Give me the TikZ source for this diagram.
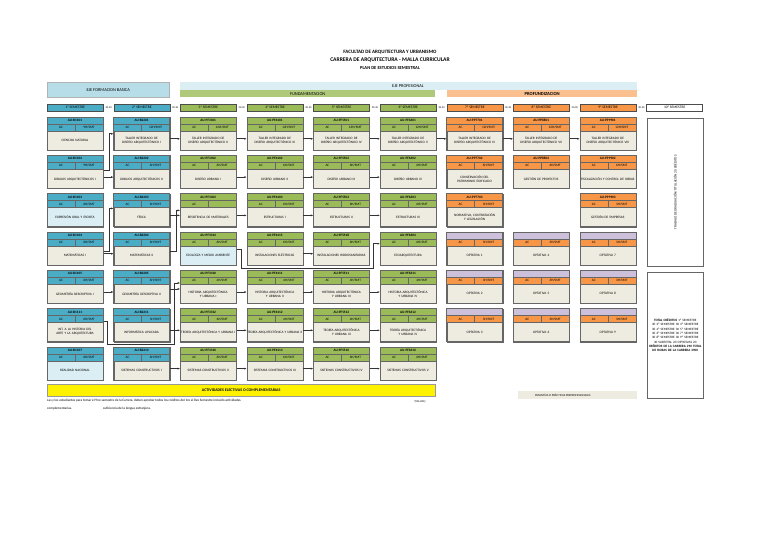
\documentclass[tikz,border=0pt]{standalone}
\usepackage{fontspec}
\setmainfont{Carlito}
\usetikzlibrary{calc,arrows.meta}
\definecolor{cb}{HTML}{4BACC6}
\definecolor{cg}{HTML}{9BBB59}
\definecolor{co}{HTML}{F79646}
\definecolor{cbody}{HTML}{EEECE1}
\definecolor{clb}{HTML}{DAEEF3}
\definecolor{cpu}{HTML}{CCC0DA}
\definecolor{cpl}{HTML}{B7DEE8}
\definecolor{cplo}{HTML}{FAC090}
\tikzset{
 box/.style={draw=black!60,line width=.6pt,anchor=north west,minimum width=56pt,minimum height=33pt,inner sep=0pt},
 tx/.style={font=\fontsize{3.4}{4}\selectfont,inner sep=0pt,align=center,execute at begin node={\hyphenpenalty=10000}},
 semh/.style={draw=black!70,line width=.5pt,anchor=north west,minimum width=56pt,minimum height=7pt,inner sep=0pt,font=\fontsize{3.6}{4}\selectfont},
 arr/.style={-{Latex[length=2.5pt,width=2pt]},line width=.7pt,black!80},
}
\newcommand\crs[8]{%
 \pgfmathsetmacro\xx{47+66.6*(#1-1)}\pgfmathsetmacro\yy{-117-38.3*(#2-1)}%
 \node[box,fill=#8] (c#1r#2) at (\xx,\yy) {};
 \fill[#3] (\xx,\yy) rectangle ++(56,-7);
 \fill[#4] (\xx,\yy-7) rectangle ++(56,-7);
 \draw[black!60,line width=.4pt] (\xx,\yy-7)--++(56,0) (\xx,\yy-14)--++(56,0) (\xx+28,\yy-7)--++(0,-7);
 \draw[black!60,line width=.6pt] (\xx,\yy) rectangle ++(56,-33);
 \node[tx] at (\xx+28,\yy-3.5) {\textbf{#5}};
 \node[tx] at (\xx+14,\yy-10.5) {AC};
 \node[tx] at (\xx+42,\yy-10.5) {#6};
 \node[tx,text width=55pt] at (\xx+28,\yy-23.5) {#7};
}
\newcommand\cb[5]{\crs{#1}{#2}{cb}{cb}{#3}{#4}{#5}{cbody}}
\newcommand\cbl[5]{\crs{#1}{#2}{cb}{cb}{#3}{#4}{#5}{clb}}
\newcommand\cgr[5]{\crs{#1}{#2}{cg}{cg}{#3}{#4}{#5}{cbody}}
\newcommand\cor[5]{\crs{#1}{#2}{co}{co}{#3}{#4}{#5}{cbody}}
\newcommand\opt[3]{\crs{#1}{#2}{cpu}{co}{}{3H/SMT}{#3}{cbody}}
\newcommand\sem[3]{\pgfmathsetmacro\xx{47+66.6*(#1-1)}\node[semh,fill=#2] (s#1) at (\xx,-104) {#3};}
\begin{document}
\begin{tikzpicture}[x=1pt,y=1pt]
\useasboundingbox (0,0) rectangle (768,-542);
\fill[white] (0,0) rectangle (768,-542);
% titles
\node[font=\fontsize{5}{6}\selectfont\bfseries] at (390,-52) {FACULTAD DE ARQUITECTURA Y URBANISMO};
\node[font=\fontsize{5.6}{6}\selectfont\bfseries] at (390,-60) {CARRERA DE ARQUITECTURA - MALLA CURRICULAR};
\node[font=\fontsize{4.6}{6}\selectfont\bfseries] at (390,-68) {PLAN DE ESTUDIOS SEMESTRAL};
% axes
\node[draw=black!30,fill=cpl,anchor=north west,minimum width=122pt,minimum height=15pt,inner sep=0pt,font=\fontsize{4.4}{5}\selectfont] (ejefb) at (47,-82) {EJE FORMACION BASICA};
\fill[clb] (180,-82) rectangle (637,-90);
\node[font=\fontsize{4.4}{5}\selectfont] (ejep) at (408,-86) {EJE PROFESIONAL};
\node[fill=cg!80,anchor=north west,minimum width=255pt,minimum height=7pt,inner sep=0pt,font=\fontsize{4.4}{5}\selectfont] (fund) at (180,-90) {FUNDAMENTACION};
\node[fill=cplo,anchor=north west,minimum width=190pt,minimum height=7pt,inner sep=0pt,font=\fontsize{4.6}{5}\selectfont\bfseries] (prof) at (447,-90) {PROFUNDIZACION};
% semesters
\sem{1}{cb}{1º SEMESTRE}\sem{2}{cb}{2º SEMESTRE}\sem{3}{cg}{3º SEMESTRE}\sem{4}{cg}{4º SEMESTRE}\sem{5}{cg}{5º SEMESTRE}\sem{6}{cg}{6º SEMESTRE}\sem{7}{co}{7º SEMESTRE}\sem{8}{co}{8º SEMESTRE}\sem{9}{co}{9º SEMESTRE}\sem{10}{white}{10º SEMESTRE}
\foreach \i/\j in {1/2,2/3,3/4,4/5,5/6,6/7,7/8,8/9,9/10}{\node[tx,font=\fontsize{2.6}{3}\selectfont] at ($(s\i.east)!.5!(s\j.west)$) {30-30};}
% row 1
\cb{1}{1}{AU-B1101}{9H/SMT}{CIENCIAS NATURAL}
\cb{2}{1}{AU-B2201}{12H/SMT}{TALLER INTEGRADO DE DISEÑO ARQUITECTÓNICO I}
\cgr{3}{1}{AU-PF3301}{12H/SMT}{TALLER INTEGRADO DE DISEÑO ARQUITECTÓNICO II}
\cgr{4}{1}{AU-PF4401}{12H/SMT}{TALLER INTEGRADO DE DISEÑO ARQUITECTÓNICO III}
\cgr{5}{1}{AU-PF5501}{12H/SMT}{TALLER INTEGRADO DE DISEÑO ARQUITECTÓNICO IV}
\cgr{6}{1}{AU-PF6601}{12H/SMT}{TALLER INTEGRADO DE DISEÑO ARQUITECTÓNICO V}
\cor{7}{1}{AU-PP7701}{12H/SMT}{TALLER INTEGRADO DE DISEÑO ARQUITECTÓNICO VI}
\cor{8}{1}{AU-PP8801}{12H/SMT}{TALLER INTEGRADO DE DISEÑO ARQUITECTÓNICO VII}
\cor{9}{1}{AU-PP9901}{12H/SMT}{TALLER INTEGRADO DE DISEÑO ARQUITECTÓNICO VIII}
% row 2
\cb{1}{2}{AU-B1102}{9H/SMT}{DIBUJOS ARQUITECTÓNICOS I}
\cb{2}{2}{AU-B2202}{6H/SMT}{DIBUJOS ARQUITECTÓNICOS II}
\cgr{3}{2}{AU-PF3302}{6H/SMT}{DISEÑO URBANO I}
\cgr{4}{2}{AU-PF4402}{6H/SMT}{DISEÑO URBANO II}
\cgr{5}{2}{AU-PF5502}{6H/SMT}{DISEÑO URBANO III}
\cgr{6}{2}{AU-PF6602}{6H/SMT}{DISEÑO URBANO IV}
\cor{7}{2}{AU-PP7702}{6H/SMT}{CONSERVACIÓN DEL PATRIMONIO EDIFICADO}
\cor{8}{2}{AU-PP8802}{6H/SMT}{GESTIÓN DE PROYECTOS}
\cor{9}{2}{AU-PP9902}{6H/SMT}{FISCALIZACIÓN Y CONTROL DE OBRAS}
% row 3
\cbl{1}{3}{AU-B1103}{6H/SMT}{EXPRESIÓN ORAL Y ESCRITA}
\cb{2}{3}{AU-B2203}{6H/SMT}{FÍSICA}
\cgr{3}{3}{AU-PF3303}{}{RESISTENCIA DE MATERIALES}
\cgr{4}{3}{AU-PF4403}{6H/SMT}{ESTRUCTURAS I}
\cgr{5}{3}{AU-PF5503}{6H/SMT}{ESTRUCTURAS II}
\cgr{6}{3}{AU-PF6603}{6H/SMT}{ESTRUCTURAS III}
\cor{7}{3}{AU-PP7703}{3H/SMT}{NORMATIVA, CONTRATACIÓN Y LEGISLACIÓN}
\cor{9}{3}{AU-PP9903}{3H/SMT}{GESTIÓN DE EMPRESAS}
% row 4
\cb{1}{4}{AU-B1104}{6H/SMT}{MATEMÁTICAS I}
\cb{2}{4}{AU-B2204}{6H/SMT}{MATEMÁTICAS II}
\crs{3}{4}{cg}{cg}{AU-PF3314}{6H/SMT}{ECOLOGÍA Y MEDIO AMBIENTE}{clb}
\cgr{4}{4}{AU-PF4415}{6H/SMT}{INSTALACIONES ELÉCTRICAS}
\cgr{5}{4}{AU-PF5518}{6H/SMT}{INSTALACIONES HIDROSANITARIAS}
\cgr{6}{4}{AU-PF6604}{6H/SMT}{ECOARQUITECTURA}
\opt{7}{4}{OPTATIVA 1}\opt{8}{4}{OPTATIVA 4}\opt{9}{4}{OPTATIVA 7}
% row 5
\cb{1}{5}{AU-B1105}{6H/SMT}{GEOMETRÍA DESCRIPTIVA I}
\cb{2}{5}{AU-B2205}{6H/SMT}{GEOMETRÍA DESCRIPTIVA II}
\cgr{3}{5}{AU-PF3310}{4H/SMT}{HISTORIA ARQUITECTÓNICA Y URBANA I}
\cgr{4}{5}{AU-PF4411}{4H/SMT}{HISTORIA ARQUITECTÓNICA Y URBANA II}
\cgr{5}{5}{AU-PF5511}{4H/SMT}{HISTORIA ARQUITECTÓNICA Y URBANA III}
\cgr{6}{5}{AU-PF6611}{4H/SMT}{HISTORIA ARQUITECTÓNICA Y URBANA IV}
\opt{7}{5}{OPTATIVA 2}\opt{8}{5}{OPTATIVA 5}\opt{9}{5}{OPTATIVA 8}
% row 6
\cb{1}{6}{AU-B1111}{6H/SMT}{INT. A LA HISTORIA DEL ARTE Y LA ARQUITECTURA}
\cb{2}{6}{AU-B2211}{3H/SMT}{INFORMÁTICA APLICADA}
\cgr{3}{6}{AU-PF3312}{4H/SMT}{TEORÍA ARQUITECTÓNICA Y URBANA I}
\cgr{4}{6}{AU-PF4412}{4H/SMT}{TEORÍA ARQUITECTÓNICA Y URBANA II}
\cgr{5}{6}{AU-PF5512}{4H/SMT}{TEORÍA ARQUITECTÓNICA Y URBANA III}
\cgr{6}{6}{AU-PF6612}{4H/SMT}{TEORÍA ARQUITECTÓNICA Y URBANA IV}
\opt{7}{6}{OPTATIVA 3}\opt{8}{6}{OPTATIVA 6}\opt{9}{6}{OPTATIVA 9}
% row 7
\cbl{1}{7}{AU-B1107}{6H/SMT}{REALIDAD NACIONAL}
\cb{2}{7}{AU-B2210}{6H/SMT}{SISTEMAS CONSTRUCTIVOS I}
\cgr{3}{7}{AU-PF3310}{6H/SMT}{SISTEMAS CONSTRUCTIVOS II}
\cgr{4}{7}{AU-PF4413}{6H/SMT}{SISTEMAS CONSTRUCTIVOS III}
\cgr{5}{7}{AU-PF5510}{6H/SMT}{SISTEMAS CONSTRUCTIVOS IV}
\cgr{6}{7}{AU-PF6610}{6H/SMT}{SISTEMAS CONSTRUCTIVOS V}
% arrows straight
\foreach \a/\b/\r in {2/3/1,3/4/1,4/5/1,5/6/1,6/7/1,7/8/1,8/9/1,
 1/2/2,3/4/2,4/5/2,5/6/2, 2/3/3,3/4/3,4/5/3,5/6/3, 1/2/4,4/5/4,
 1/2/5,3/4/5,4/5/5,5/6/5, 2/3/6,3/4/6,4/5/6,5/6/6, 2/3/7,3/4/7,4/5/7,5/6/7}
 {\draw[arr] ($(c\a r\r.east)+(0,-5)$) -- ($(c\b r\r.west)+(0,-5)$);}
% elbow arrows
\draw[arr] ($(c1r2.east)+(0,2)$) -| ++(6,17) |- ($(c2r1.west)+(0,0)$);
\draw[arr] ($(c1r4.east)+(0,-3)$) -| ++(6,23) |- ($(c2r3.west)+(0,2)$);
\draw[arr] ($(c2r4.east)+(0,-3)$) -| ++(6,22) |- ($(c3r3.west)+(0,0)$);
\draw[arr] ($(c3r4.east)+(0,-1)$) -| ++(5,-18.6) -| ++(132,0) |- ($(c6r4.west)+(0,5)$);
\draw[arr] ($(c1r6.east)+(0,4)$) -| ++(4,-23) -| ++(67,0) |- ($(c3r5.west)+(0,4)$);
\draw[arr] ($(c2r5.east)+(0,-2)$) -- ($(c3r5.west)+(0,-2)$);
% right panels
\node[semh,minimum height=148pt,fill=white,draw=black!60] (tg) at (647,-118) {};
\node[tx,rotate=90,font=\fontsize{3.4}{4}\selectfont] at (tg.center) {TRABAJO DE GRADUACIÓN/TITULACIÓN 20 CRÉDITOS};
\node[semh,minimum height=126pt,fill=white,draw=black!60] (tot) at (647,-272) {};
\node[tx,text width=53pt,font=\fontsize{3.3}{4.3}\selectfont] at (tot.center) {\textbf{TOTAL CRÉDITOS} 1º SEMESTRE 30 2º SEMESTRE 30 3º SEMESTRE 30 4º SEMESTRE 30 5º SEMESTRE 30 6º SEMESTRE 30 7º SEMESTRE 30 8º SEMESTRE 30 9º SEMESTRE 30 SUBTOTAL 20 OPTATIVAS 20 \textbf{CRÉDITOS DE LA CARRERA 290 TOTAL DE HORAS DE LA CARRERA 3900}};
% bottom
\node[draw=black!40,fill=yellow,anchor=north west,minimum width=388pt,minimum height=12pt,inner sep=0pt,font=\fontsize{4}{5}\selectfont\bfseries] (act) at (47,-384) {ACTIVIDADES ELECTIVAS O COMPLEMENTARIAS};
\node[fill=cbody,anchor=north west,minimum width=119pt,minimum height=8pt,inner sep=0pt,font=\fontsize{3}{4}\selectfont] (pas) at (518,-391) {\hspace*{-30pt}PASANTÍAS O PRÁCTICAS PREPROFESIONALES};
\node[tx,anchor=west,font=\fontsize{3.4}{4}\selectfont] at (47,-401) {Las y los estudiantes para tomar el 9no semestre de la Carrera, deben aprobar todos los créditos del 1ro al 8vo Semestre incluido actividades};
\node[tx,anchor=west,font=\fontsize{3.4}{4}\selectfont] at (47,-409) {complementarias.};
\node[tx,anchor=west,font=\fontsize{3.4}{4}\selectfont] at (103,-409) {suficiencia de la lengua extranjera.};
\node[tx,font=\fontsize{3}{4}\selectfont] at (420,-402) {(5to-6to)};
\end{tikzpicture}
\end{document}
